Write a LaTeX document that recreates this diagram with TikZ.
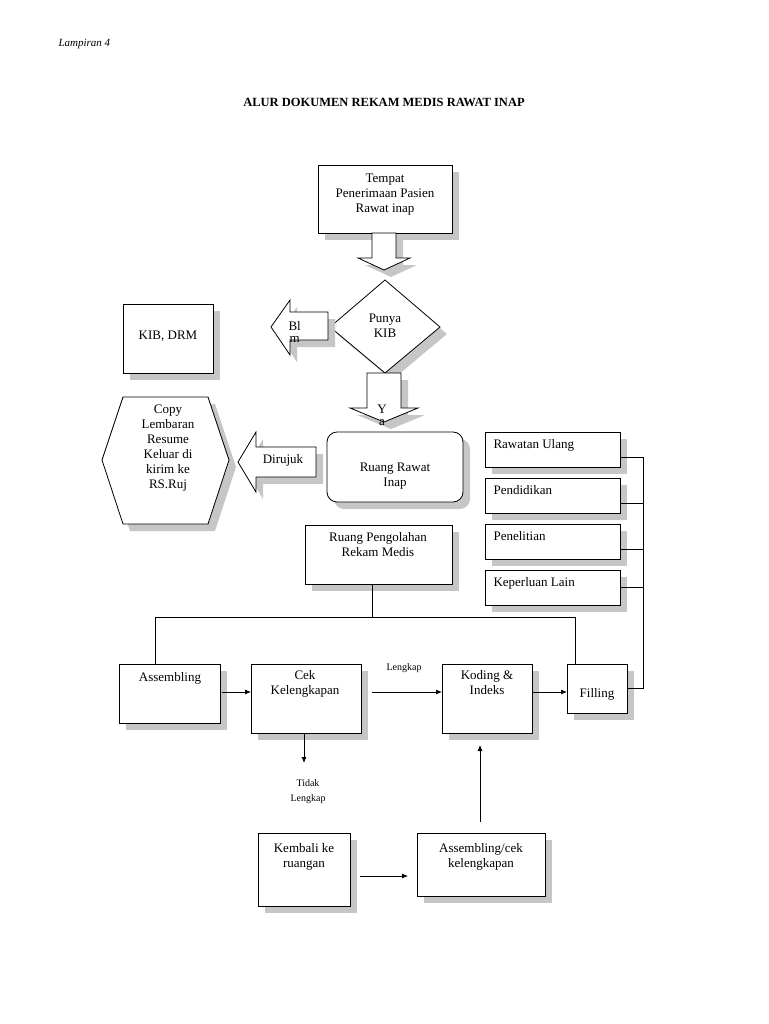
\documentclass[tikz,border=0pt]{standalone}
\usepackage{fontspec}
\setmainfont{Liberation Serif}
\usetikzlibrary{shapes.geometric,shadows,arrows.meta}
\begin{document}
\begin{tikzpicture}[x=1pt,y=-1pt,
  sh/.style={drop shadow={shadow xshift=7pt,shadow yshift=-7pt,fill=gray!45,opacity=1}},
  bx/.style={draw,fill=white,sh,line width=0.8pt},
  txt/.style={font=\fontsize{13}{15}\selectfont,align=center},
  con/.style={line width=0.8pt},
  arr/.style={con,-{Latex[length=6pt,width=5pt]}}]
\useasboundingbox (0,0) rectangle (768,1024);
\node[anchor=west,font=\itshape\fontsize{11}{13}\selectfont] (lamp) at (55,44) {Lampiran 4};
\node[font=\bfseries\fontsize{12.5}{14}\selectfont] (title) at (384,102) {ALUR DOKUMEN REKAM MEDIS RAWAT INAP};
% top box
\draw[bx] (318,165) rectangle (452,233);
\node[txt,anchor=north] (tp) at (385,170) {Tempat\\Penerimaan Pasien\\Rawat inap};
% block arrow down
\draw[bx] (372,233) -- (396,233) -- (396,258) -- (410,258) -- (384,270) -- (358,258) -- (372,258) -- cycle;
% diamond
\draw[bx] (385,280) -- (440,327) -- (385,373) -- (330,327) -- cycle;
\node[txt] (kib) at (385,326) {Punya\\KIB};
% Blm arrow
\draw[bx] (328,312) -- (290,312) -- (290,300) -- (271,327) -- (290,355) -- (290,340) -- (328,340) -- cycle;
\node[txt,anchor=north west] (blm) at (285,318) {Bl\\[-3pt]m};
% KIB DRM
\draw[bx] (123,304) rectangle (213,373);
\node[txt] (kd) at (168,336) {KIB, DRM};
% Ya arrow
\draw[bx] (367,373) -- (401,373) -- (401,408) -- (418,408) -- (384,422) -- (350,408) -- (367,408) -- cycle;
\node[txt,anchor=north] (ya) at (382,401) {Y\\[-3pt]a};
% Ruang rawat inap
\draw[bx,rounded corners=10pt] (327,432) rectangle (463,502);
\node[txt] (rri) at (395,476) {Ruang Rawat\\Inap};
% Dirujuk arrow
\draw[bx] (316,447) -- (256,447) -- (256,432) -- (238,462) -- (256,492) -- (256,477) -- (316,477) -- cycle;
\node[txt] (dir) at (283,460) {Dirujuk};
% hexagon
\draw[bx] (102,460) -- (123,397) -- (208,397) -- (229,460) -- (208,524) -- (123,524) -- cycle;
\node[txt,anchor=north] (copy) at (168,401) {Copy\\Lembaran\\Resume\\Keluar di\\kirim ke\\RS.Ruj};
% right boxes
\foreach \y/\t/\n in {432/Rawatan Ulang/ru,478/Pendidikan/pd,524/Penelitian/pn,570/Keperluan Lain/kl}{
  \draw[bx] (485,\y) rectangle (620,\y+35);
  \node[txt,anchor=north west] (\n) at (490,\y+4) {\t};
}
% pengolahan
\draw[bx] (305,525) rectangle (452,584);
\node[txt,anchor=north] (rp) at (378,529) {Ruang Pengolahan\\Rekam Medis};
% main row
\draw[bx] (119,664) rectangle (220,723);
\node[txt,anchor=north] (as) at (170,669) {Assembling};
\draw[bx] (251,664) rectangle (361,733);
\node[txt,anchor=north] (ck) at (305,667) {Cek\\Kelengkapan};
\draw[bx] (442,664) rectangle (532,733);
\node[txt,anchor=north] (ki) at (487,667) {Koding \&\\Indeks};
\draw[bx] (567,664) rectangle (627,713);
\node[txt] (fi) at (597,694) {Filling};
% bottom
\draw[bx] (258,833) rectangle (350,906);
\node[txt,anchor=north] (kb) at (304,840) {Kembali ke\\ruangan};
\draw[bx] (417,833) rectangle (545,896);
\node[txt,anchor=north] (ac) at (481,840) {Assembling/cek\\kelengkapan};
% labels
\node[font=\fontsize{10}{12}\selectfont] (lk) at (404,668) {Lengkap};
\node[font=\fontsize{10}{15}\selectfont,align=center] (tl) at (308,792) {Tidak\\Lengkap};
% connectors
\coordinate (c1) at (372,617);
\draw[con] (372,584) -- (c1);
\draw[con] (155,664) -- (155,617) -- (575,617) -- (575,664);
\draw[arr] (222,692) -- (251,692);
\draw[arr] (372,692) -- (442,692);
\draw[arr] (532,692) -- (567,692);
\draw[arr] (304,733) -- (304,763);
\draw[arr] (360,876) -- (408,876);
\draw[arr] (480,822) -- (480,745);
\draw[con] (620,457) -- (643,457) -- (643,688) -- (627,688);
\draw[con] (620,503) -- (643,503);
\draw[con] (620,549) -- (643,549);
\draw[con] (620,587) -- (643,587);
\end{tikzpicture}
\end{document}
